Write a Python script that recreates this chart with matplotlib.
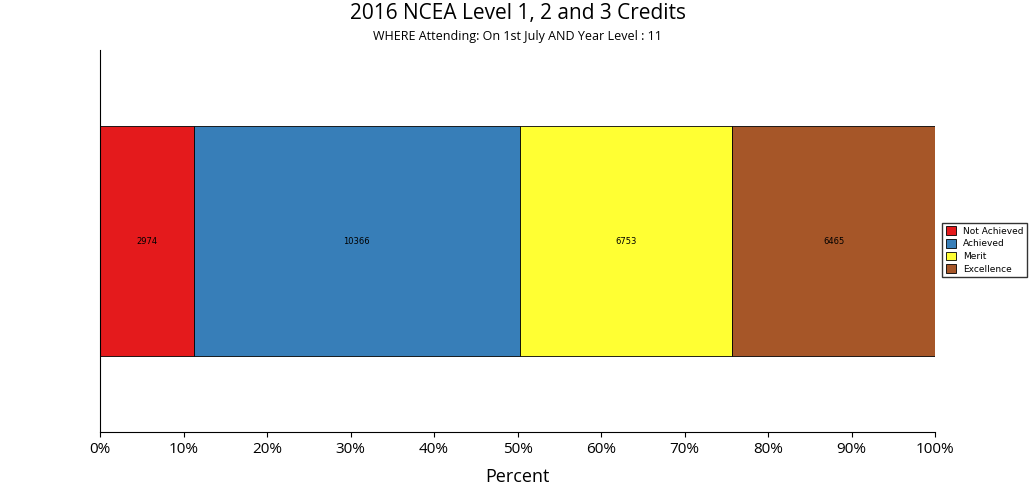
import matplotlib.pyplot as plt
from matplotlib.patches import Patch

plt.rcParams['font.family'] = ['Open Sans', 'DejaVu Sans']

categories = ["Not Achieved", "Achieved", "Merit", "Excellence"]
counts = [2974, 10366, 6753, 6465]
colors = ["#e41a1c", "#377eb8", "#ffff33", "#a65628"]

total = sum(counts)
fig = plt.figure(figsize=(10.35, 5.0), dpi=100)
ax = fig.add_axes([0.0966, 0.136, 0.807, 0.764])

left = 0.0
for cat, n, c in zip(categories, counts, colors):
    w = n / total * 100
    ax.barh(0, w, left=left, height=0.6, color=c, edgecolor="black", linewidth=0.6)
    ax.text(left + w / 2, 0, str(n), ha="center", va="center", fontsize=6,
            family=["Liberation Sans Narrow", "DejaVu Sans"])
    left += w

ax.set_xlim(0, 100)
ax.set_ylim(-0.5, 0.5)
ax.set_yticks([])
ax.set_xticks(range(0, 101, 10))
ax.set_xticklabels([f"{t}%" for t in range(0, 101, 10)], fontsize=11)
ax.set_xlabel("Percent", fontsize=13, labelpad=8)
for s in ["top", "right"]:
    ax.spines[s].set_visible(False)

fig.text(0.5, 0.962, "2016 NCEA Level 1, 2 and 3 Credits", ha="center", fontsize=15)
fig.text(0.5, 0.92, "WHERE Attending: On 1st July AND Year Level : 11", ha="center", fontsize=9)

handles = [Patch(facecolor=c, edgecolor="black", linewidth=0.6) for c in colors]
leg = fig.legend(handles, categories, loc="center left", bbox_to_anchor=(0.906, 0.5),
                 fontsize=6.5, frameon=True, fancybox=False, edgecolor="black",
                 handlelength=1.1, handleheight=1.1, borderpad=0.4, labelspacing=0.35,
                 prop={"family": ["Liberation Sans Narrow", "DejaVu Sans"], "size": 6.5})

fig.savefig("out.png")
